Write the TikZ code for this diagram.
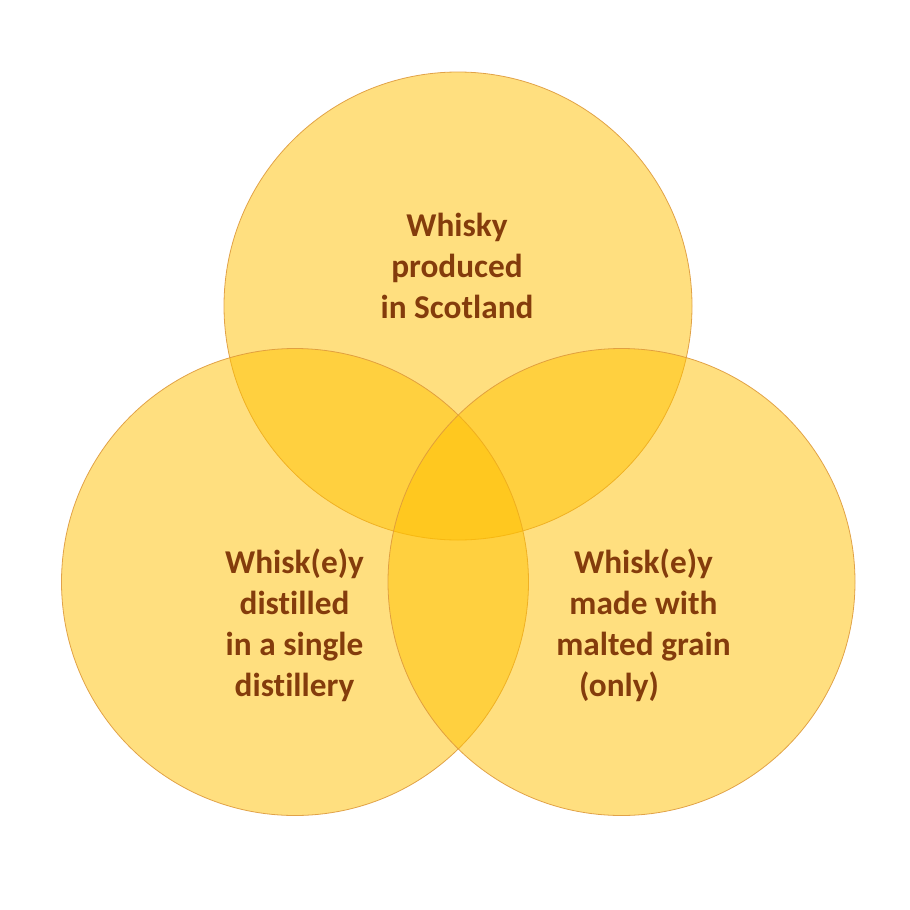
\documentclass[tikz,border=0pt]{standalone}
\usepackage{fontspec}
\setmainfont[Ligatures=NoCommon]{Carlito}
\definecolor{setfill}{HTML}{FFC000}
\definecolor{setline}{HTML}{DE9A3C}
\definecolor{settext}{HTML}{843C0C}
\tikzset{
  setcircle/.style={fill=setfill, fill opacity=0.5, draw=setline, draw opacity=0.9, line width=0.8pt},
  setlabel/.style={text=settext, align=center, inner sep=0pt, font=\fontsize{33.3}{41}\selectfont\bfseries}
}
\begin{document}
\begin{tikzpicture}[x=1pt,y=-1pt]
\useasboundingbox (0,0) rectangle (910,910);
\draw[setcircle] (458,306) circle[radius=234];
\draw[setcircle] (295,582) circle[radius=233.5];
\draw[setcircle] (621.5,582) circle[radius=233.5];
\node[setlabel] (scot) at (457,265.5) {Whisky\\produced\\in Scotland};
\node[setlabel] (single) at (294.5,625) {Whisk(e)y\\distilled\\in a single\\distillery};
\node[setlabel] (malt) at (643.5,625) {Whisk(e)y\\made with\\malted grain\\(only)\hspace*{1.47em}};
\end{tikzpicture}
\end{document}
